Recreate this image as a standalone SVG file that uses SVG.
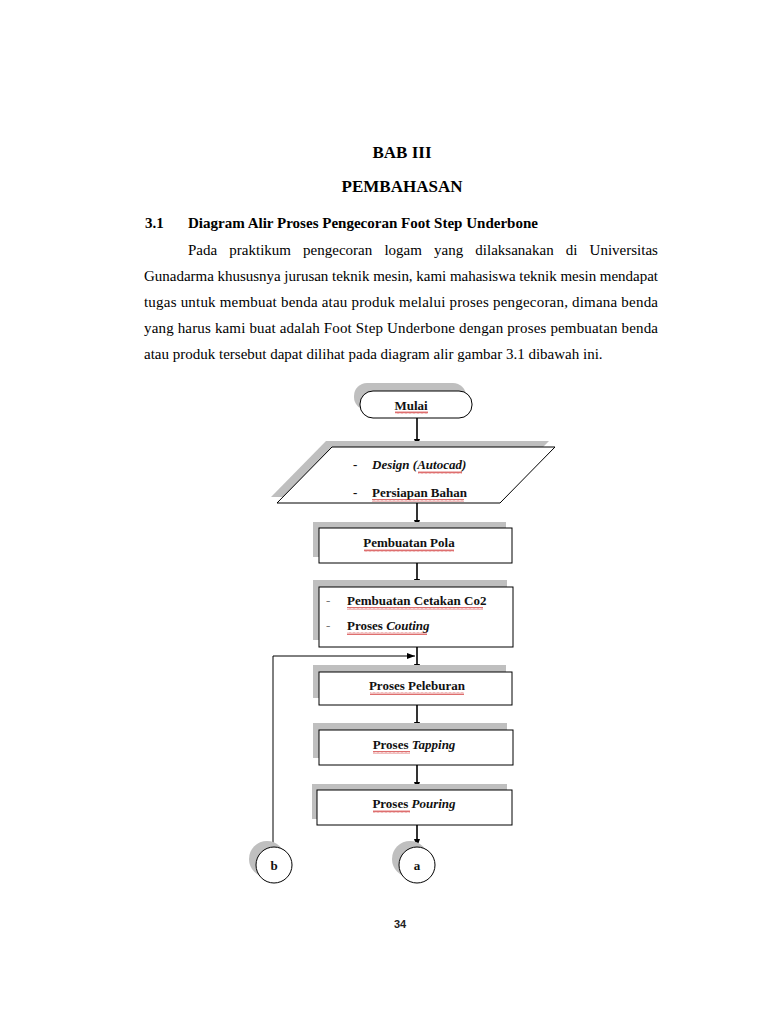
<svg xmlns="http://www.w3.org/2000/svg" width="768" height="1024" viewBox="0 0 768 1024">
<style>
.t{font-family:"Liberation Serif","Times New Roman",serif;fill:#000}
.h{font-size:17px;font-weight:bold;text-anchor:middle}
.p{font-size:15px}
.b{font-weight:bold}
.n{font-family:"Liberation Serif","Times New Roman",serif;font-size:13px;font-weight:bold;fill:#111}
.m{text-anchor:middle}
.i{font-style:italic}
.sh{fill:#bfbfbf;stroke:none}
.bx{fill:#fff;stroke:#000;stroke-width:1}
.ln{stroke:#000;stroke-width:1.6;fill:none}
.fb{stroke:#000;stroke-width:1;fill:none}
.sq{fill:url(#sq)}
</style>
<defs>
<marker id="ah" markerUnits="userSpaceOnUse" markerWidth="8" markerHeight="8" refX="8" refY="4" orient="auto">
<path d="M0,1 L8,4 L0,7 z" fill="#000"/>
</marker>
<pattern id="sq" patternUnits="userSpaceOnUse" width="4" height="3">
<path d="M0,2.5 L1,0.5 L2,2.5 L3,0.5 L4,2.5" stroke="#d03030" stroke-width="0.7" fill="none"/>
</pattern>
</defs>
<rect width="768" height="1024" fill="#fff"/>

<g id="header">
<text class="t h" x="402" y="158">BAB III</text>
<text class="t h" x="402" y="192">PEMBAHASAN</text>
<text class="t p b" x="145" y="228">3.1</text>
<text class="t p b" x="188" y="228" textLength="350" lengthAdjust="spacingAndGlyphs">Diagram Alir Proses Pengecoran Foot Step Underbone</text>
<text class="t p" x="188" y="255" word-spacing="8.4">Pada praktikum pengecoran logam yang dilaksanakan di Universitas</text>
<text class="t p" x="144" y="281" textLength="514" lengthAdjust="spacing">Gunadarma khususnya jurusan teknik mesin, kami mahasiswa teknik mesin mendapat</text>
<text class="t p" x="144" y="307" textLength="514" lengthAdjust="spacing">tugas untuk membuat benda atau produk melalui proses pengecoran, dimana benda</text>
<text class="t p" x="144" y="333" textLength="514" lengthAdjust="spacing">yang harus kami buat adalah Foot Step Underbone dengan proses pembuatan benda</text>
<text class="t p" x="144" y="359">atau produk tersebut dapat dilihat pada diagram alir gambar 3.1 dibawah ini.</text>
</g>

<g id="connectors">
<path class="ln" d="M417,418 V447" marker-end="url(#ah)"/>
<path class="ln" d="M417,503 V528" marker-end="url(#ah)"/>
<path class="ln" d="M417,563 V587" marker-end="url(#ah)"/>
<path class="ln" d="M417,647 V672" marker-end="url(#ah)"/>
<path class="ln" d="M417,705 V730" marker-end="url(#ah)"/>
<path class="ln" d="M417,765 V790" marker-end="url(#ah)"/>
<path class="ln" d="M417,825 V847" marker-end="url(#ah)"/>
<path class="fb" d="M273,847 V656 H415" marker-end="url(#ah)"/>
</g>

<g id="mulai">
<rect class="sh" x="354" y="383" width="112" height="27" rx="13"/>
<rect class="bx" x="360" y="391" width="112" height="27" rx="13"/>
<text class="n m" x="411" y="410">Mulai</text>
<rect class="sq" x="395" y="411" width="33" height="3"/>
</g>

<g id="input">
<polygon class="sh" points="326,441 549,441 494,497 271,497"/>
<polygon class="bx" points="332,447 555,447 500,503 277,503"/>
<text class="n" x="353" y="469">-</text>
<text class="n i" x="372" y="469">Design (Autocad)</text>
<rect class="sq" x="418" y="471" width="44" height="3"/>
<text class="n" x="353" y="497">-</text>
<text class="n" x="372" y="497">Persiapan Bahan</text>
<rect class="sq" x="372" y="499" width="92" height="3"/>
</g>

<g id="pola">
<rect class="sh" x="313" y="522" width="193" height="35"/>
<rect class="bx" x="319" y="528" width="193" height="35"/>
<text class="n m" x="409" y="547">Pembuatan Pola</text>
<rect class="sq" x="364" y="549" width="90" height="3"/>
</g>

<g id="cetakan">
<rect class="sh" x="313" y="580" width="194" height="60"/>
<rect class="bx" x="319" y="587" width="194" height="60"/>
<text class="n" x="326" y="605" style="font-weight:normal;fill:#777">-</text>
<text class="n" x="347" y="605">Pembuatan Cetakan Co2</text>
<rect class="sq" x="347" y="607" width="136" height="3"/>
<text class="n" x="326" y="630" style="font-weight:normal;fill:#777">-</text>
<text class="n" x="347" y="630">Proses <tspan class="i">Couting</tspan></text>
<rect class="sq" x="347" y="632" width="80" height="3"/>
</g>

<g id="peleburan">
<rect class="sh" x="313" y="665" width="193" height="33"/>
<rect class="bx" x="319" y="672" width="193" height="33"/>
<text class="n m" x="417" y="690">Proses Peleburan</text>
<rect class="sq" x="370" y="692" width="94" height="3"/>
</g>

<g id="tapping">
<rect class="sh" x="313" y="723" width="194" height="35"/>
<rect class="bx" x="319" y="730" width="194" height="35"/>
<text class="n m" x="414" y="749">Proses <tspan class="i">Tapping</tspan></text>
<rect class="sq" x="373" y="751" width="37" height="3"/>
</g>

<g id="pouring">
<rect class="sh" x="312" y="784" width="195" height="35"/>
<rect class="bx" x="317" y="790" width="195" height="35"/>
<text class="n m" x="414" y="808">Proses <tspan class="i">Pouring</tspan></text>
<rect class="sq" x="373" y="810" width="37" height="3"/>
</g>

<g id="b">
<circle class="sh" cx="267" cy="859" r="18"/>
<circle class="bx" cx="274" cy="865" r="18"/>
<text class="n m" x="274" y="870">b</text>
</g>

<g id="a">
<circle class="sh" cx="410" cy="859" r="18"/>
<circle class="bx" cx="417" cy="865" r="18"/>
<text class="n m" x="417" y="870">a</text>
</g>

<g id="page">
<text x="400" y="928" style="font-family:'Liberation Sans',Arial,sans-serif;font-size:11px;font-weight:bold;text-anchor:middle;fill:#222">34</text>
</g>
</svg>
